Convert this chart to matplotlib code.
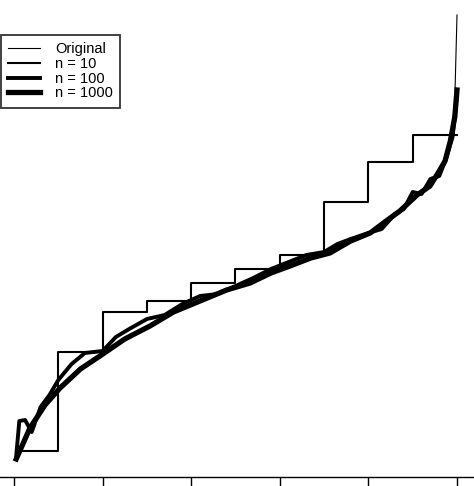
import matplotlib
matplotlib.use("Agg")
import matplotlib.pyplot as plt

# quantile level (x) and value (y)
orig_x = [0.005, 0.036, 0.07, 0.104, 0.15, 0.194, 0.25, 0.307, 0.36, 0.42, 0.48, 0.533, 0.58, 0.623, 0.67, 0.713, 0.76, 0.804, 0.84, 0.871, 0.91, 0.939, 0.96, 0.973, 0.983, 0.989, 0.995, 1.0]
orig_y = [19, 47, 70, 87, 107, 122, 138, 152, 164, 177, 186, 195, 203, 212, 218, 225, 235, 245, 255, 267, 281, 292, 305, 317, 330, 347, 377, 462]

n10_x = [0.005, 0.1, 0.2, 0.3, 0.4, 0.5, 0.6, 0.7, 0.8, 0.9, 1.0]
n10_y = [26, 125, 165, 176, 194, 208, 222, 275, 315, 342, 342]

n100_x = [0.005, 0.012, 0.025, 0.04, 0.06, 0.08, 0.1, 0.13, 0.16, 0.2, 0.23, 0.26, 0.3, 0.34, 0.38, 0.42, 0.46, 0.5, 0.54, 0.58, 0.62, 0.66, 0.7, 0.73, 0.76, 0.8, 0.83, 0.86, 0.88, 0.9, 0.92, 0.94, 0.96, 0.975, 0.99, 1.0]
n100_y = [21, 56, 57, 45, 70, 82, 97, 113, 124, 126, 140, 148, 158, 162, 173, 181, 183, 191, 199, 208, 215, 222, 225, 233, 238, 244, 248, 263, 268, 285, 283, 298, 301, 318, 340, 382]

n1000_x = [0.005, 0.036, 0.07, 0.104, 0.15, 0.194, 0.25, 0.307, 0.36, 0.42, 0.48, 0.533, 0.58, 0.623, 0.67, 0.713, 0.76, 0.804, 0.84, 0.871, 0.91, 0.939, 0.96, 0.973, 0.985, 0.995, 1.0]
n1000_y = [18, 49, 72, 89, 108, 121, 138, 151, 165, 176, 187, 194, 204, 211, 219, 224, 236, 244, 256, 266, 282, 291, 306, 316, 336, 360, 387]

xticks = [0, 0.2, 0.4, 0.6, 0.8, 1.0]

plt.rcParams['font.family'] = ['Liberation Sans', 'DejaVu Sans']
fig = plt.figure(figsize=(4.74, 4.86), dpi=100)
ax = fig.add_axes([0, 9/486, 1, 1 - 9/486])
ax.plot(orig_x, orig_y, color='black', lw=0.8, label='Original')
ax.plot(n10_x, n10_y, color='black', lw=1.5, drawstyle='steps-post', label='n = 10')
ax.plot(n100_x, n100_y, color='black', lw=2.8, label='n = 100')
ax.plot(n1000_x, n1000_y, color='black', lw=3.8, label='n = 1000')

ax.set_xlim(-14/443, 460/443)
ax.set_ylim(0, 477)
ax.set_xticks(xticks)
ax.set_xticklabels([])
ax.set_yticks([])
ax.tick_params(axis='x', direction='out', length=8, width=1)
for s in ['left', 'top', 'right']:
    ax.spines[s].set_visible(False)
ax.spines['bottom'].set_linewidth(1)

leg = ax.legend(loc='upper left', bbox_to_anchor=(1/474, 1 - 35/477), fontsize=10.5,
                frameon=True, fancybox=False, edgecolor='black', handlelength=2.2,
                handletextpad=1.0, labelspacing=0.05, borderpad=0.5, borderaxespad=0)
leg.get_frame().set_linewidth(1.3)
fig.savefig('out.png', dpi=100)
